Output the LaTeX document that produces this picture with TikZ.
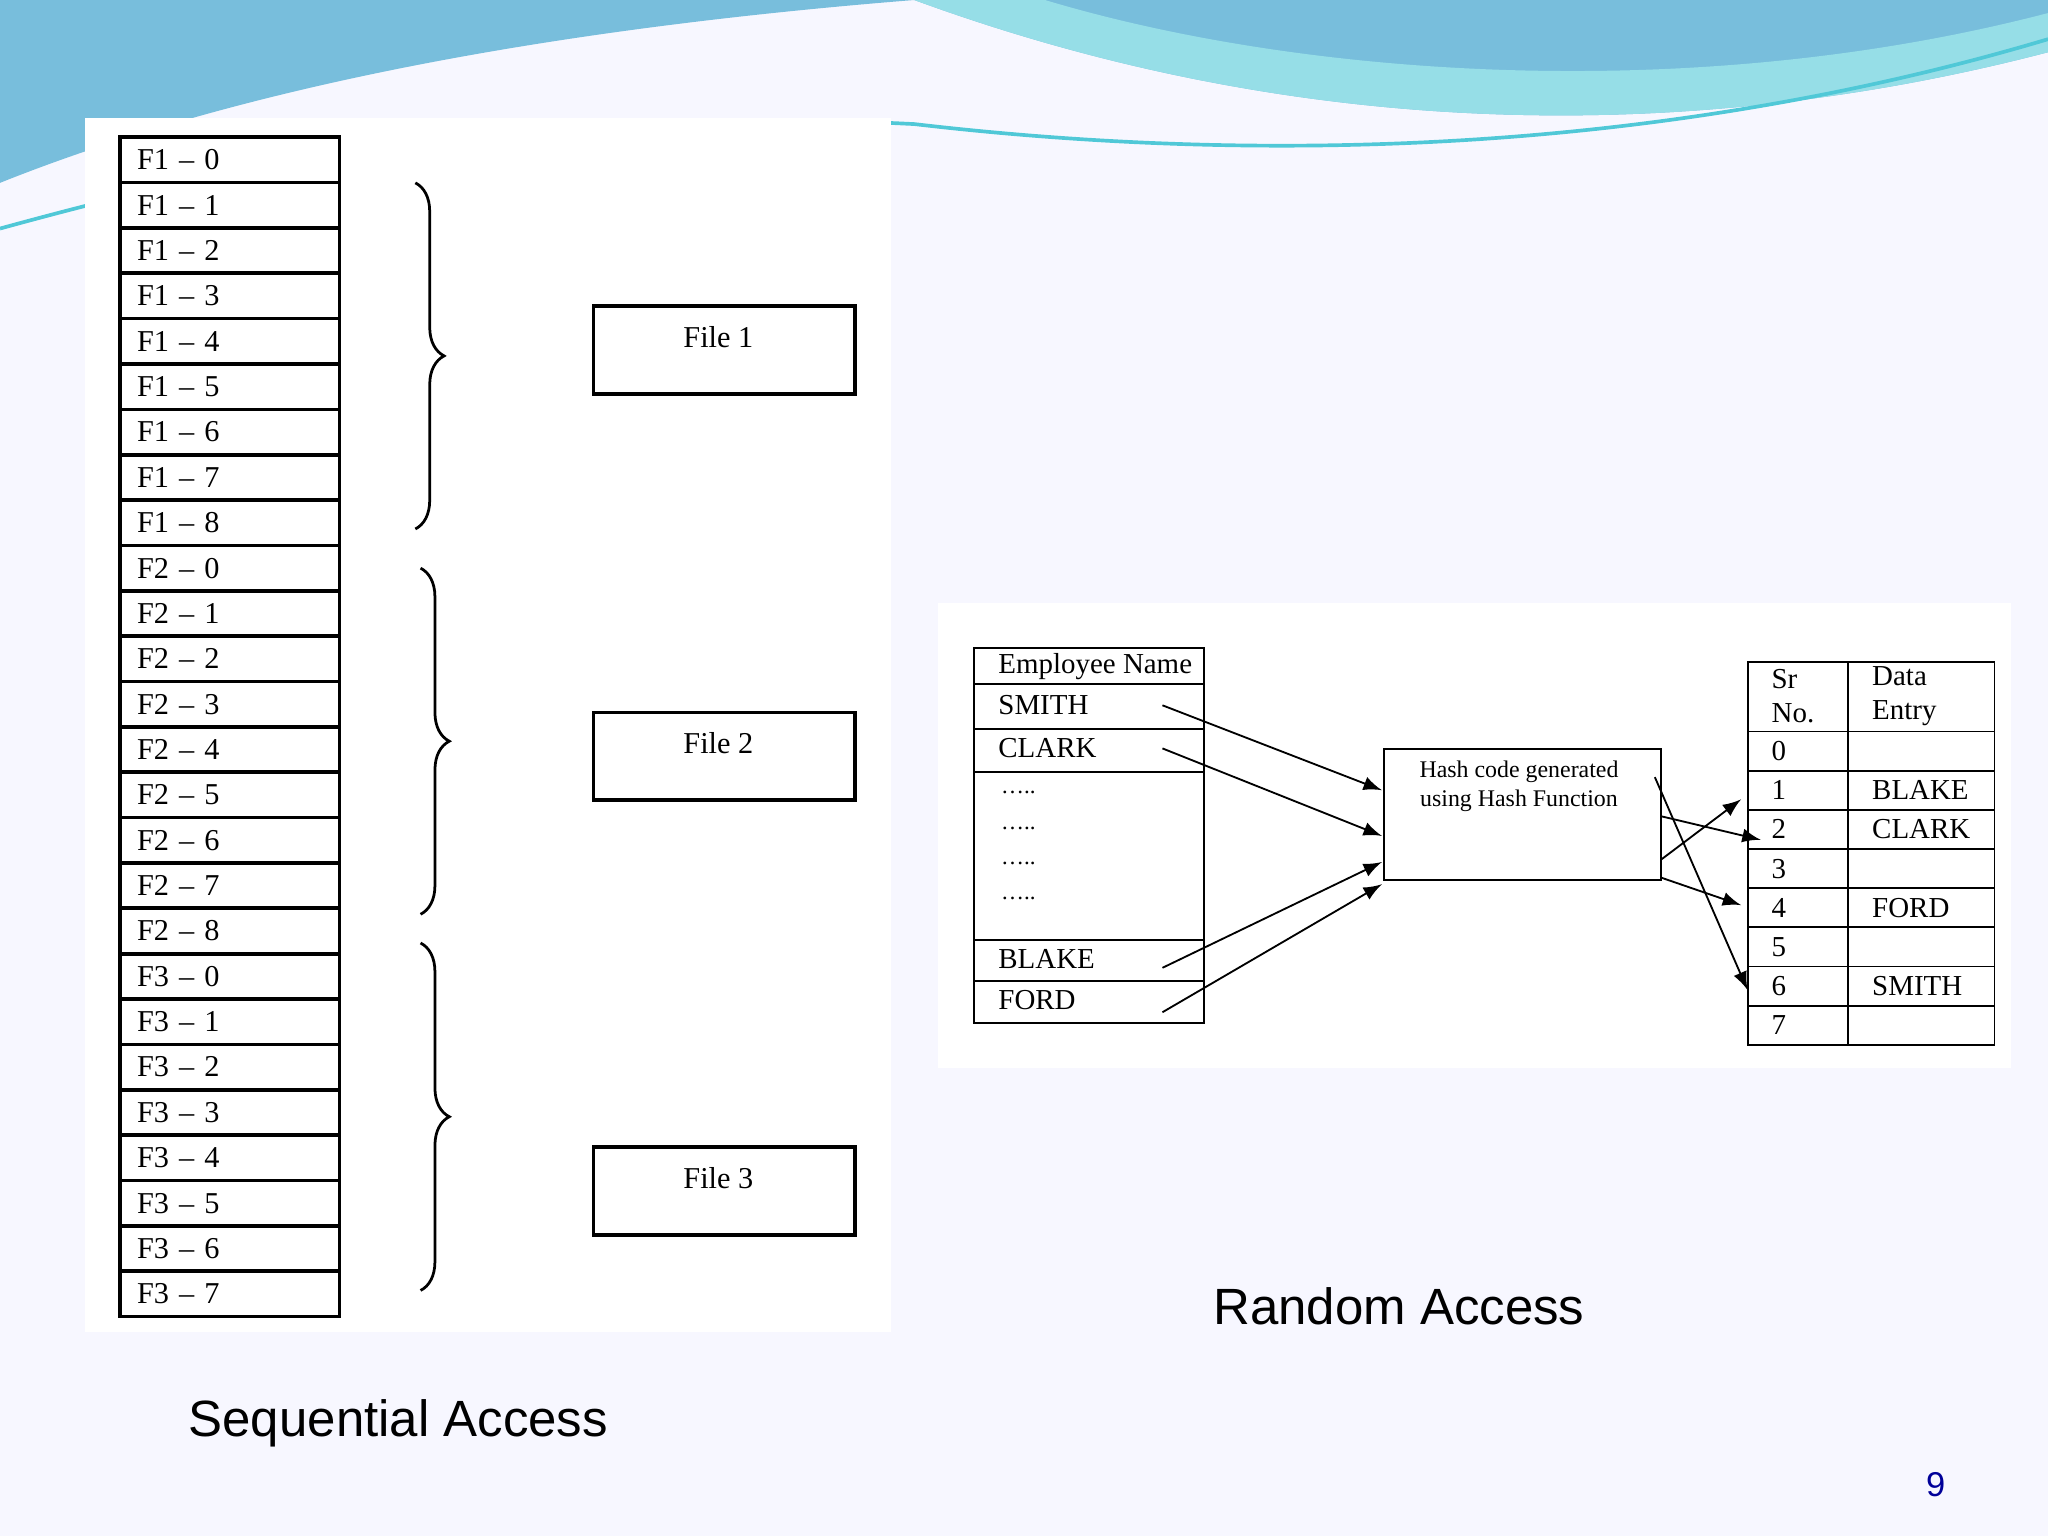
\documentclass[tikz,border=0pt]{standalone}
\usepackage{fontspec}
\setmainfont{Liberation Serif}
\newfontfamily\sans{Liberation Sans}
\usetikzlibrary{positioning,decorations.pathreplacing}
\colorlet{colorBG}{blue!3!white}
\definecolor{colorSKY}{RGB}{120,190,220}
\definecolor{colorTEAL}{RGB}{80,200,215}
\tikzset{
   every path/.style={>=latex},
   cell/.style={draw,thick,minimum width=1.68cm,minimum height=0.347cm,inner sep=0,font=\fontsize{6.6}{8}\selectfont},
   filebox/.style={draw,thick,minimum width=2cm,minimum height=0.67cm,font=\fontsize{6.6}{8}\selectfont},
   panel/.style={fill=white,draw=none},
   brc/.style={decorate,decoration={brace,amplitude=0.22cm},semithick},
   tx/.style={anchor=west,font=\fontsize{6.3}{7.5}\selectfont},
   hash/.style={->,thin,shorten >=0mm},
   title/.style={font=\sans\fontsize{11.1}{13}\selectfont},
}
\begin{document}
\begin{tikzpicture}[x=0.01cm,y=-0.01cm]
  \useasboundingbox (0,0) rectangle (1568,1176);
  \fill[colorBG] (0,0) rectangle (1568,1176);

  % top waves
  \fill[colorSKY] (0,0) -- (1568,0) -- (1568,40) .. controls (1300,110) and (1000,110) .. (700,0) -- cycle;
  \fill[colorSKY] (0,0) -- (700,0) .. controls (450,20) and (200,60) .. (0,140) -- cycle;
  \fill[colorTEAL!60] (700,0) .. controls (1000,110) and (1300,110) .. (1568,40) -- (1568,10) .. controls (1300,80) and (1000,60) .. (800,0) -- cycle;
  \draw[colorTEAL,thick] (0,175) .. controls (200,120) and (400,80) .. (700,95) .. controls (1000,130) and (1300,110) .. (1568,30);

  % panels
  \fill[panel] (65,90) rectangle (682,1020);
  \fill[panel] (718,462) rectangle (1540,818);

  % sequential
  \foreach \lab [count=\i from 0] in {F1 -- 0,F1 -- 1,F1 -- 2,F1 -- 3,F1 -- 4,F1 -- 5,F1 -- 6,F1 -- 7,F1 -- 8,
      F2 -- 0,F2 -- 1,F2 -- 2,F2 -- 3,F2 -- 4,F2 -- 5,F2 -- 6,F2 -- 7,F2 -- 8,
      F3 -- 0,F3 -- 1,F3 -- 2,F3 -- 3,F3 -- 4,F3 -- 5,F3 -- 6,F3 -- 7}
    \node[cell,text width=1.42cm,align=left] (s\i) at (176,{122.4+34.73*\i}) {\lab};

  \coordinate (b1t) at (318,140); \coordinate (b1b) at (318,405);
  \coordinate (b2t) at (322,435); \coordinate (b2b) at (322,700);
  \coordinate (b3t) at (322,722); \coordinate (b3b) at (322,988);
  \draw[brc] (b1t) -- (b1b);
  \draw[brc] (b2t) -- (b2b);
  \draw[brc] (b3t) -- (b3b);

  \node[filebox,anchor=north west] (f1) at (453,233) {};
  \node[filebox,anchor=north west] (f2) at (453,544) {};
  \node[filebox,anchor=north west] (f3) at (453,877) {};
  \node[font=\fontsize{6.6}{8}\selectfont] at (550,258) {File 1};
  \node[font=\fontsize{6.6}{8}\selectfont] at (550,569) {File 2};
  \node[font=\fontsize{6.6}{8}\selectfont] at (550,902) {File 3};

  % random
  \draw (746,496) rectangle (922,783);
  \foreach \y in {524,558,591,720,751} \draw (746,\y) -- (922,\y);
  \node[tx] (eh) at (752,510) {Employee Name};
  \node[tx] (esm) at (752,540) {SMITH};
  \node[tx] (ecl) at (752,573) {CLARK};
  \foreach \y in {607,634,661,688} \node[anchor=west,font=\fontsize{5}{6}\selectfont] at (754,\y) {\dots..};
  \node[tx] (ebl) at (752,734) {BLAKE};
  \node[tx] (efo) at (752,766) {FORD};

  \node[draw,minimum width=2.12cm,minimum height=1cm,anchor=north west] (hf) at (1059,573) {};
  \node[font=\fontsize{5.2}{6.2}\selectfont,align=center] at (1163,602) {Hash code generated\\using Hash Function};

  \draw (1338,507) rectangle (1527,800);
  \draw (1415,507) -- (1415,800);
  \foreach \y in {560,590,620,650,680,710,740,770} \draw (1338,\y) -- (1527,\y);
  \node[tx,align=left] at (1344,533) {Sr\\No.};
  \node[tx,align=left] at (1421,533) {Data\\Entry};
  \foreach \n in {0,...,7}
    \node[tx] (k\n) at (1344,{575+30*\n}) {\n};
  \node[tx] at (1421,605) {BLAKE};
  \node[tx] at (1421,635) {CLARK};
  \node[tx] at (1421,695) {FORD};
  \node[tx] at (1421,755) {SMITH};

  \coordinate (a1) at (890,540); \coordinate (h1) at (1058,605);
  \coordinate (a2) at (890,573); \coordinate (h2) at (1058,640);
  \coordinate (a3) at (890,741); \coordinate (h3) at (1058,660);
  \coordinate (a4) at (890,775); \coordinate (h4) at (1058,677);
  \draw[hash] (a1) -- (h1);
  \draw[hash] (a2) -- (h2);
  \draw[hash] (a3) -- (h3);
  \draw[hash] (a4) -- (h4);
  \coordinate (o1) at (1272,658); \coordinate (t1) at (1333,612);
  \coordinate (o2) at (1272,625); \coordinate (t2) at (1348,643);
  \coordinate (o3) at (1272,672); \coordinate (t3) at (1333,693);
  \coordinate (o4) at (1267,595); \coordinate (t4) at (1338,758);
  \draw[hash] (o1) -- (t1);
  \draw[hash] (o2) -- (t2);
  \draw[hash] (o3) -- (t3);
  \draw[hash] (o4) -- (t4);

  \node[title] (rand) at (1071,1000) {Random Access};
  \node[title] (seq) at (305,1090) {Sequential Access};
  \node[font=\sans\fontsize{7.5}{8}\selectfont,text=blue!60!black] (pg) at (1482,1137) {9};
\end{tikzpicture}
\end{document}
